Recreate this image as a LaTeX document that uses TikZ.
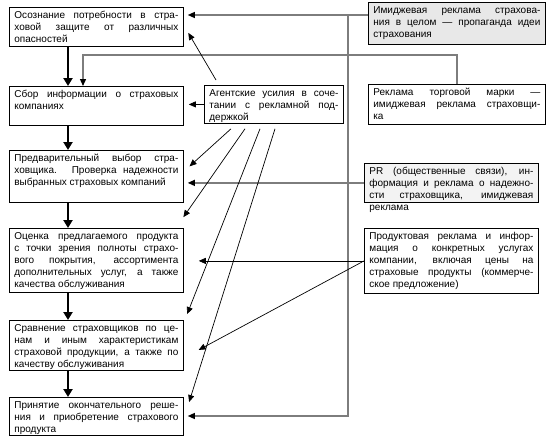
\documentclass[tikz,border=0pt]{standalone}
\usepackage{fontspec}
\setmainfont{Liberation Sans}
\usetikzlibrary{arrows.meta,calc}
\definecolor{lgray}{RGB}{125,125,125}
\definecolor{boxgray}{RGB}{232,232,232}
\definecolor{boxgray2}{RGB}{243,243,243}
\newcommand{\jl}[1]{\makebox[\linewidth][s]{#1}\par}
\newcommand{\bt}[3]{\parbox[c][#1][t]{#2}{\fontsize{10}{12}\selectfont #3}}
\begin{document}
\begin{tikzpicture}[x=1pt,y=-1pt,
  box/.style={draw, line width=0.8pt, anchor=north west, inner xsep=5pt, inner ysep=4pt, fill=white},
  arr/.style={-{Triangle[length=7pt,width=6pt]}, line width=0.7pt, shorten >=1pt},
  garr/.style={-{Triangle[length=7pt,width=6pt,color=black]}, draw=lgray, line width=1.3pt},
  tarr/.style={-{Triangle[length=8pt,width=9pt]}, line width=2.2pt}]
\useasboundingbox (0,0) rectangle (550,442);

% left column
\node[box] (b1) at (9,7) {\bt{31pt}{164pt}{\jl{Осознание потребности в стра-}\jl{ховой защите от различных}опасностей}};
\node[box] (b2) at (9,86) {\bt{31pt}{164pt}{\jl{Сбор информации о страховых}компаниях}};
\node[box] (b3) at (9,150) {\bt{44pt}{164pt}{\jl{Предварительный выбор стра-}\jl{ховщика. Проверка надежности}выбранных страховых компаний}};
\node[box] (b4) at (9,228) {\bt{56pt}{164pt}{\jl{Оценка предлагаемого продукта}\jl{с точки зрения полноты страхо-}\jl{вого покрытия, ассортимента}\jl{дополнительных услуг, а также}качества обслуживания}};
\node[box] (b5) at (9,320) {\bt{42pt}{164pt}{\jl{Сравнение страховщиков по це-}\jl{нам и иным характеристикам}\jl{страховой продукции, а также по}качеству обслуживания}};
\node[box] (b6) at (9,397) {\bt{30pt}{164pt}{\jl{Принятие окончательного реше-}\jl{ния и приобретение страхового}продукта}};

% agent box
\node[box] (ag) at (204,85) {\bt{30pt}{129pt}{\jl{Агентские усилия в соче-}\jl{тании с рекламной под-}держкой}};

% right column
\node[box, fill=boxgray] (r1) at (368,2) {\bt{34pt}{167pt}{\jl{Имиджевая реклама страхова-}\jl{ния в целом — пропаганда идеи}страхования}};
\node[box] (r2) at (368,84) {\bt{32pt}{167pt}{\jl{Реклама торговой марки —}\jl{имиджевая реклама страховщи-}ка}};
\node[box, fill=boxgray2] (r3) at (364,163) {\bt{31pt}{164pt}{\jl{PR (общественные связи), ин-}\jl{формация и реклама о надежно-}\jl{сти страховщика, имиджевая}реклама}};
\node[box] (r4) at (364,228) {\bt{57pt}{164pt}{\jl{Продуктовая реклама и инфор-}\jl{мация о конкретных услугах}\jl{компании, включая цены на}\jl{страховые продукты (коммерче-}ское предложение)}};

% helper coordinates
\coordinate (ax) at (68,0);
\coordinate (vx) at (348,0);
\coordinate (y15) at (0,15);
\coordinate (y55) at (0,55);
\coordinate (y416) at (0,416);
\coordinate (x83) at (83,0);

% thick process arrows
\draw[tarr] (b1.south -| ax) -- (b2.north -| ax);
\draw[tarr] (b2.south -| ax) -- (b3.north -| ax);
\draw[tarr] (b3.south -| ax) -- (b4.north -| ax);
\draw[tarr] (b4.south -| ax) -- (b5.north -| ax);
\draw[tarr] (b5.south -| ax) -- (b6.north -| ax);

% gray connectors
\draw[garr] (r1.west |- y15) -- ($(b1.east |- y15)+(4,0)$);
\draw[garr] (vx |- y15) -- (vx |- y416) -- ($(b6.east |- y416)+(4,0)$);
\draw[garr] (r2.north) -- (r2.north |- y55) -- (x83 |- y55) -- (x83 |- b2.north);
\draw[garr] (r3.west) -- ($(b3.east |- r3.west)+(4,0)$);

% agent connectors
\draw[arr] (ag.west) -- ($(b2.east |- ag.west)+(4,0)$);
\draw[arr] ($(ag.north west)+(12,-5)$) -- ($(b1.north east)+(4,25)$);
\draw[arr] ($(ag.south west)+(27,5)$) -- ($(b3.north east)+(5,17)$);
\draw[arr] ($(ag.south west)+(41,5)$) -- ($(b4.north east)+(-1,-10)$);
\draw[arr] ($(ag.south west)+(56,5)$) -- ($(b5.north east)+(3,-5)$);
\draw[arr] ($(ag.south west)+(71,5)$) -- ($(b6.north east)+(5,6)$);

% product advertising connectors
\draw[arr] (r4.west) -- ($(b4.east |- r4.west)+(14,0)$);
\draw[arr] (r4.west) -- ($(b5.east)+(14,5)$);
\end{tikzpicture}
\end{document}
